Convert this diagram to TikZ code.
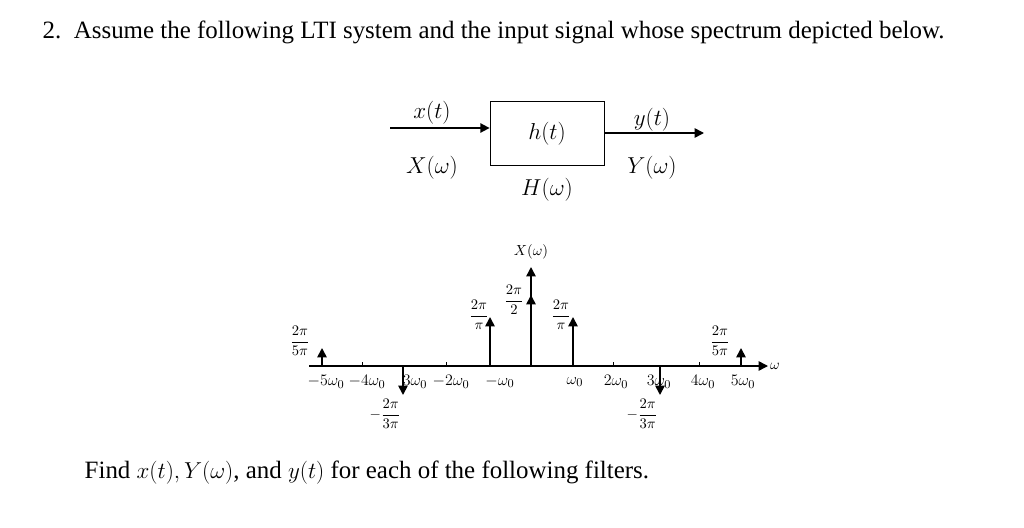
\documentclass[tikz,border=0pt]{standalone}
\usepackage{fontspec}
\setmainfont{Liberation Serif}
\usetikzlibrary{arrows.meta}
\tikzset{
  sig/.style={-{Triangle[length=7pt,width=7pt]},line width=1.3pt},
  lbl/.style={inner sep=1pt,font=\fontsize{16}{18}\selectfont},
  small/.style={inner sep=1pt,font=\fontsize{11}{12}\selectfont},
  freq/.style={inner sep=1pt,font=\fontsize{12.5}{13}\selectfont},
  tick/.style={line width=0.6pt}
}
\newcommand{\wt}[2]{$\displaystyle #1\frac{2\pi}{#2}$}
\begin{document}
\begin{tikzpicture}[x=0.75pt,y=-0.75pt]
\useasboundingbox (0,0) rectangle (1024,528);
% title
\node[anchor=west,font=\fontsize{18.7}{20}\selectfont] (title) at (38,32) {2.\enspace Assume the following LTI system and the input signal whose spectrum depicted below.};
% block
\node[draw,line width=0.6pt,minimum width=85.5pt,minimum height=48pt] (h) at (547,133) {};
\node[lbl] (ht) at (547,134) {$h(t)$};
\node[lbl] (Hw) at (547,190) {$H(\omega)$};
\coordinate (in) at (390,128);
\coordinate (out) at (704,133);
\draw[sig] (in) -- (h.west |- in);
\draw[sig] (h.east |- out) -- (out);
\node[lbl] (xt) at (432,113) {$x(t)$};
\node[lbl] (Xw) at (432,168) {$X(\omega)$};
\node[lbl] (yt) at (652,120) {$y(t)$};
\node[lbl] (Yw) at (652,168) {$Y(\omega)$};
% spectrum axes
\coordinate (w0) at (309,366);
\coordinate (w1) at (768,366);
\coordinate (o) at (531,366);
\coordinate (otop) at (531,267);
\draw[sig,line width=1.1pt] (w0) -- (w1) node[right,small] {$\omega$};
\draw[sig,line width=1.1pt] (o) -- (otop) node[above=4pt,small] {$X(\omega)$};
\foreach \x in {362,446,613,699} \draw[tick] (\x,362) -- (\x,366);
% impulses
\draw[sig] (o) -- (531,295);
\draw[sig] (322,366) -- (322,348);
\draw[sig] (741,366) -- (741,348);
\draw[sig] (490,366) -- (490,317);
\draw[sig] (573,366) -- (573,317);
\draw[sig] (403,366) -- (403,395);
\draw[sig] (660,366) -- (660,395);
% impulse weights
\node[small] (a5m) at (300,341) {\wt{}{5\pi}};
\node[small] (a5p) at (720,341) {\wt{}{5\pi}};
\node[small] (a1m) at (479,315) {\wt{}{\pi}};
\node[small] (a1p) at (561,315) {\wt{}{\pi}};
\node[small] (a0) at (514,300) {\wt{}{2}};
\node[small] (a3m) at (385,414) {\wt{-}{3\pi}};
\node[small] (a3p) at (642,414) {\wt{-}{3\pi}};
% frequency labels
\foreach \x/\t in {326/-5\omega_0,367/-4\omega_0,415/3\omega_0,451/-2\omega_0,500/-\omega_0,575/\omega_0,616/2\omega_0,659/3\omega_0,703/4\omega_0,743/5\omega_0}
  \node[freq] at (\x,382) {$\t$};
% closing line
\node[anchor=west,font=\fontsize{18.7}{20}\selectfont] (find) at (80,473) {Find $x(t), Y(\omega)$, and $y(t)$ for each of the following filters.};
\end{tikzpicture}
\end{document}
